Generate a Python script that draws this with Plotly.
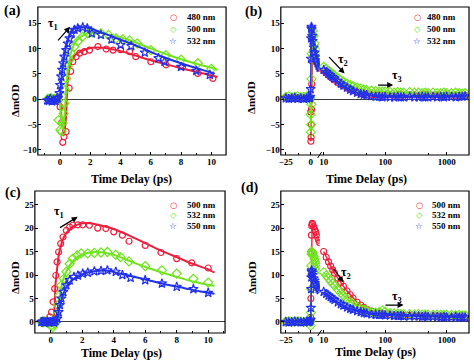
import plotly.graph_objects as go

RED = '#ee1f3c'
GREEN = '#6fe31c'
BLUE = '#2230ea'
FONT = 'Liberation Serif'

# ---------------- panel (a) ----------------
A_T_480 = [-0.8,-0.7,-0.6,-0.5,-0.4,-0.3,-0.2,-0.1,0.0,0.1,0.18,0.26,0.4,0.6,0.7,0.84,1.06,1.3,1.6,1.94,2.5,3.05,3.5,4.0,4.6,5.0,6.0,7.0,8.1,9.1,10.1]
A_V_480 = [0.0,0.1,-0.1,0.0,0.2,0.0,-0.1,0.2,-1.5,-4.6,-8.5,-7.4,-6.4,2.2,5.5,7.4,8.4,9.1,9.4,9.7,10.4,9.9,9.7,9.8,9.4,8.4,7.4,6.8,6.4,5.1,4.1]
A_T_500 = [-0.8,-0.7,-0.6,-0.5,-0.4,-0.3,-0.2,-0.1,0.02,0.1,0.16,0.24,0.28,0.33,0.4,0.5,0.6,0.7,0.95,1.17,1.5,1.83,2.16,2.7,3.2,3.7,4.15,4.6,5.1,6.0,7.0,8.0,9.1,10.0]
A_V_500 = [0.1,0.0,0.2,0.0,0.1,-0.2,0.0,-4.1,-6.0,-6.4,-4.7,-2.8,-0.8,1.8,4.1,6.4,7.8,9.1,10.4,11.4,12.4,13.0,13.2,13.0,12.7,12.0,11.8,11.6,11.0,9.7,8.7,7.8,7.1,6.0]
A_T_532 = [-0.85,-0.75,-0.65,-0.55,-0.45,-0.35,-0.25,-0.15,-0.04,0.0,0.07,0.13,0.2,0.28,0.4,0.5,0.62,0.77,0.95,1.17,1.5,1.8,2.1,2.7,3.4,4.0,4.7,5.6,6.5,6.9,8.0,9.0,9.9]
A_V_532 = [-0.2,-0.3,0.1,-0.4,-0.2,-0.3,0.0,0.2,1.2,2.8,4.5,5.8,7.1,8.4,9.7,11.0,12.0,13.0,13.7,14.0,14.2,14.0,13.0,12.7,11.8,10.7,10.5,9.2,8.1,7.4,6.4,5.6,4.8]

A_FT_480 = [-0.85,-0.05,0.1,0.25,0.38,0.5,0.65,0.85,1.1,1.5,1.9,2.4,3.0,4.0,5.0,6.0,7.0,8.0,9.0,10.0,10.4]
A_FV_480 = [0.0,0.0,-4.0,-7.2,-4.0,3.5,6.5,8.0,9.0,9.6,10.0,10.2,10.1,9.5,8.6,7.7,6.9,6.1,5.4,4.7,4.4]
A_FT_500 = [-0.85,-0.1,0.05,0.2,0.32,0.45,0.6,0.8,1.1,1.5,2.0,2.5,3.0,4.0,5.0,6.0,7.0,8.0,9.0,10.0,10.4]
A_FV_500 = [0.0,0.0,-3.0,-6.0,-2.0,4.0,7.5,10.0,11.6,12.6,13.1,13.1,12.9,12.2,11.2,10.0,8.9,7.9,7.0,6.2,5.8]
A_FT_532 = [-0.85,-0.1,0.0,0.15,0.3,0.45,0.6,0.8,1.0,1.4,2.0,2.6,3.5,4.5,5.5,6.5,7.5,8.5,9.5,10.2]
A_FV_532 = [-0.2,-0.2,1.0,6.0,9.0,11.0,12.4,13.5,14.0,14.2,14.0,13.3,12.3,11.2,10.0,8.7,7.6,6.6,5.7,5.1]

# ---------------- panel (c) ----------------
C_T_500 = [-0.6,-0.5,-0.4,-0.3,-0.2,-0.1,-0.06,0.05,0.15,0.25,0.32,0.4,0.5,0.63,0.78,0.99,1.2,1.4,1.72,2.03,2.45,2.98,3.5,4.0,4.55,4.97,6.0,7.0,8.0,8.95,10.0]
C_V_500 = [0.0,0.1,0.0,-0.1,0.1,0.2,1.1,2.1,4.3,7.1,9.9,12.8,14.9,16.7,18.1,19.5,20.2,20.6,20.7,20.7,20.6,20.0,19.9,19.2,18.5,17.2,16.3,14.8,13.5,12.6,11.5]
C_T_532 = [-0.6,-0.5,-0.4,-0.3,-0.2,-0.1,0.04,0.12,0.25,0.35,0.46,0.56,0.67,0.83,0.99,1.2,1.4,1.68,1.93,2.35,2.77,3.19,3.6,4.13,4.44,4.97,6.0,7.06,8.0,9.06,10.0]
C_V_532 = [0.0,-0.1,0.1,0.0,-0.2,-0.3,-0.7,-1.1,-0.4,1.4,3.6,5.7,7.8,9.2,10.7,12.4,13.5,14.2,14.6,14.6,14.7,14.8,14.9,14.3,13.8,12.9,11.9,11.0,10.3,9.2,8.4]
C_T_550 = [-0.6,-0.5,-0.4,-0.3,-0.2,-0.1,0.0,0.1,0.2,0.3,0.42,0.5,0.58,0.67,0.8,0.99,1.2,1.47,1.72,2.03,2.35,2.77,3.19,3.6,4.13,4.55,5.07,6.0,7.06,8.0,9.06,10.0]
C_V_550 = [0.0,0.1,-0.1,0.0,0.1,-0.1,0.0,0.1,-0.1,0.2,0.7,2.1,3.6,5.0,6.4,7.8,8.9,9.6,9.9,10.3,10.5,10.8,10.9,11.0,10.7,10.0,9.4,8.9,8.2,7.5,7.0,6.2]

C_FT_500 = [-0.6,0.1,0.3,0.55,0.9,1.4,2.0,2.4,3.0,4.0,5.0,6.0,7.0,8.0,9.0,10.0,10.4]
C_FV_500 = [0.0,0.0,8.0,15.0,18.5,20.3,21.0,21.1,20.7,19.8,18.4,16.8,15.2,13.8,12.4,11.2,10.5]
C_FT_532 = [-0.6,0.1,0.2,0.45,0.7,1.1,1.6,2.2,3.0,3.8,4.5,5.3,6.2,7.2,8.2,9.2,10.0,10.4]
C_FV_532 = [0.0,0.0,-0.5,3.0,8.0,11.5,13.6,14.6,14.9,14.5,13.7,12.6,11.5,10.4,9.4,8.5,7.9,7.7]
C_FT_550 = [-0.6,0.35,0.55,0.8,1.1,1.6,2.2,3.0,3.6,4.3,5.2,6.2,7.3,8.5,9.5,10.4]
C_FV_550 = [0.0,0.0,3.0,6.0,8.0,9.5,10.4,10.9,10.9,10.4,9.7,8.9,8.0,7.2,6.5,6.0]

# ---------------- panels (b) and (d): broken axis (linear | log) ----------------
T_SHORT = [-25,-22,-19,-16,-13,-10,-7,-4,-2,-1,-0.5,0,0.2,0.4,0.6,0.8,1,1.5,2,3,4,5,6,7,8,9]
T_LONG = [10,11,12,13,14,15,17,19,21,24,27,30,35,40,45,50,60,70,80,90,100,120,140,160,180,200,250,300,350,400,450,500,600,700,800,900,1000,1200,1400,1600,1800,2000]

B_S_480 = [0.3,0.2,0.3,0.2,0.3,0.2,0.3,0.2,0.3,0.2,0.0,-2.5,-8.3,-7.5,-5.0,-2.0,3.0,7.5,9.5,10.0,9.2,8.4,7.7,7.0,6.5,6.1]
B_L_480 = [5.6,5.2,4.8,4.4,4.1,3.8,3.3,2.9,2.6,2.2,1.9,1.7,1.4,1.2,1.1,1.0,0.9,0.9,0.9,0.8,0.9,0.9,0.8,0.9,0.9,0.8,0.9,0.9,0.8,0.9,0.9,0.9,0.8,0.9,0.8,0.8,0.9,0.8,0.8,0.8,0.7,0.8]
B_S_500 = [0.5,0.6,0.4,0.5,0.6,0.4,0.5,0.6,0.5,0.4,0.2,-3.0,-6.5,-5.0,-1.0,4.0,9.0,12.5,13.5,12.5,11.0,9.8,8.8,8.0,7.3,6.8]
B_L_500 = [6.4,6.0,5.6,5.3,5.0,4.7,4.2,3.8,3.5,3.1,2.8,2.6,2.3,2.1,1.9,1.8,1.7,1.6,1.5,1.5,1.5,1.4,1.3,1.4,1.3,1.3,1.4,1.3,1.3,1.2,1.3,1.2,1.3,1.2,1.2,1.3,1.2,1.2,1.3,1.2,1.1,1.2]
B_S_532 = [0.2,0.1,0.2,0.3,0.1,0.2,0.1,0.2,0.3,0.2,0.5,2.0,8.0,12.0,14.0,14.3,13.8,12.5,11.5,10.2,9.2,8.4,7.7,7.1,6.6,6.2]
B_L_532 = [5.8,5.4,5.0,4.7,4.4,4.1,3.6,3.1,2.7,2.3,1.9,1.6,1.3,1.0,0.9,0.8,0.6,0.5,0.5,0.4,0.5,0.4,0.4,0.5,0.4,0.4,0.5,0.4,0.4,0.5,0.4,0.4,0.5,0.4,0.5,0.4,0.5,0.5,0.4,0.5,0.5,0.6]

D_S_500 = [0.1,0.0,0.1,0.2,0.0,0.1,0.0,0.1,0.2,0.1,0.3,1.0,5.0,10.0,15.0,18.5,20.5,21.0,20.8,20.3,19.7,19.2,18.6,18.0,17.4,16.9]
D_L_500 = [15.0,13.8,12.8,11.9,11.1,10.4,9.3,8.4,7.6,6.6,5.8,5.1,4.2,3.6,3.1,2.7,2.3,2.0,1.9,1.8,1.7,1.6,1.5,1.5,1.4,1.4,1.4,1.3,1.3,1.3,1.3,1.2,1.3,1.2,1.2,1.2,1.2,1.1,1.2,1.1,1.1,1.0]
D_S_532 = [0.1,0.2,0.0,0.1,0.2,0.1,0.0,0.1,0.2,0.1,0.0,-0.8,2.0,7.0,12.0,14.5,15.0,14.8,14.5,14.0,13.4,12.9,12.4,11.9,11.5,11.1]
D_L_532 = [10.6,9.9,9.3,8.7,8.2,7.7,6.9,6.2,5.6,4.9,4.3,3.9,3.3,2.9,2.6,2.4,2.1,2.0,2.1,2.5,2.2,1.9,1.8,1.8,1.7,1.7,1.7,1.6,1.7,1.6,1.6,1.6,1.5,1.6,1.5,1.5,1.5,1.5,1.4,1.5,1.4,1.4]
D_S_550 = [0.0,-0.1,0.0,0.1,0.0,-0.1,0.0,0.1,0.0,0.1,0.2,0.5,3.0,7.0,9.5,10.8,11.0,10.5,10.0,9.3,8.8,8.3,7.9,7.5,7.1,6.8]
D_L_550 = [6.4,6.0,5.6,5.3,5.0,4.7,4.2,3.8,3.5,3.1,2.8,2.6,2.3,2.1,1.9,1.8,1.6,1.5,1.5,1.5,1.4,1.4,1.3,1.3,1.3,1.2,1.2,1.2,1.2,1.1,1.2,1.1,1.1,1.1,1.0,1.1,1.0,1.0,1.1,1.0,1.0,1.0]

LEG_A = ['480 nm', '500 nm', '532 nm']
LEG_C = ['500 nm', '532 nm', '550 nm']
SYMBOLS = ['circle-open', 'diamond-open', 'star-open']
SIZES = [6, 7, 7]
GLYPHS = ['○', '◇', '☆']
COLORS = [RED, GREEN, BLUE]

W, H = 474, 364
def px(x): return x / W
def py(y): return 1 - y / H

fig = go.Figure()

def add_markers(t, v, i, xa, ya, name):
    fig.add_trace(go.Scatter(x=t, y=v, mode='markers', name=name, showlegend=False,
                             xaxis=xa, yaxis=ya,
                             marker=dict(symbol=SYMBOLS[i], size=SIZES[i], color=COLORS[i],
                                         line=dict(width=1.2, color=COLORS[i]))))

def add_fit(t, v, i, xa, ya):
    fig.add_trace(go.Scatter(x=t, y=v, mode='lines', showlegend=False, hoverinfo='skip',
                             xaxis=xa, yaxis=ya, line=dict(color=COLORS[i], width=2, shape='spline', smoothing=0.6)))

def add_both(t, v, i, xa, ya, name):
    fig.add_trace(go.Scatter(x=t, y=v, mode='lines+markers', name=name, showlegend=False,
                             xaxis=xa, yaxis=ya, line=dict(color=COLORS[i], width=1.4),
                             marker=dict(symbol=SYMBOLS[i], size=SIZES[i], color=COLORS[i],
                                         line=dict(width=1.1, color=COLORS[i]))))

# (a)
for i, (t, v, ft, fv) in enumerate([(A_T_480, A_V_480, A_FT_480, A_FV_480),
                                    (A_T_500, A_V_500, A_FT_500, A_FV_500),
                                    (A_T_532, A_V_532, A_FT_532, A_FV_532)]):
    add_markers(t, v, i, 'x', 'y', LEG_A[i])
    add_fit(ft, fv, i, 'x', 'y')
# (b)
for i, (s, l) in enumerate([(B_S_480, B_L_480), (B_S_500, B_L_500), (B_S_532, B_L_532)]):
    add_both(T_SHORT, s, i, 'x2', 'y2', LEG_A[i])
    add_both(T_LONG, l, i, 'x3', 'y2', LEG_A[i])
# (c)
for i, (t, v, ft, fv) in enumerate([(C_T_500, C_V_500, C_FT_500, C_FV_500),
                                    (C_T_532, C_V_532, C_FT_532, C_FV_532),
                                    (C_T_550, C_V_550, C_FT_550, C_FV_550)]):
    add_markers(t, v, i, 'x4', 'y3', LEG_C[i])
    add_fit(ft, fv, i, 'x4', 'y3')
# (d)
for i, (s, l) in enumerate([(D_S_500, D_L_500), (D_S_532, D_L_532), (D_S_550, D_L_550)]):
    add_both(T_SHORT, s, i, 'x5', 'y4', LEG_C[i])
    add_both(T_LONG, l, i, 'x6', 'y4', LEG_C[i])

tickfont = dict(family=FONT, size=9, color='black', weight='bold')
base = dict(showgrid=False, showline=False, ticks='inside', ticklen=3, tickwidth=1,
            tickcolor='black', tickfont=tickfont, zeroline=False)

TOP = [py(155), py(7)]
BOT = [py(333), py(191)]
LIN_D = [px(280), px(319)]
LOG_D = [px(319), px(469)]
ZL = dict(zeroline=True, zerolinecolor='#3a3a3a', zerolinewidth=1.4)

lay = dict(
    xaxis=dict(base, domain=[px(36), px(225)], anchor='y', range=[-1.47, 10.97],
               tickvals=[0, 2, 4, 6, 8, 10], minor=dict(ticks='inside', ticklen=2, dtick=1, tick0=0)),
    yaxis=dict(base, domain=TOP, anchor='x', range=[-11.0, 18.2], tickvals=[-10, -5, 0, 5, 10, 15], **ZL),
    xaxis2=dict(base, domain=LIN_D, anchor='y2', range=[-30, 9], tickvals=[-25, 0],
                minor=dict(ticks='inside', ticklen=2, tickvals=[-12.5])),
    xaxis3=dict(base, domain=LOG_D, anchor='y2', type='log', range=[0.935, 3.363],
                tickvals=[10, 100, 1000], ticktext=['10', '100', '1000'],
                minor=dict(ticks='inside', ticklen=2, tickvals=[50, 500])),
    yaxis2=dict(base, domain=TOP, anchor='x2', range=[-11.0, 18.2], tickvals=[-10, -5, 0, 5, 10, 15], **ZL),
    xaxis4=dict(base, domain=[px(33), px(224)], anchor='y3', range=[-1.01, 11.07],
                tickvals=[0, 2, 4, 6, 8, 10], minor=dict(ticks='inside', ticklen=2, dtick=1, tick0=0)),
    yaxis3=dict(base, domain=BOT, anchor='x4', range=[-2.35, 27.9], tickvals=[0, 5, 10, 15, 20, 25], **ZL),
    xaxis5=dict(base, domain=LIN_D, anchor='y4', range=[-30, 9], tickvals=[-25, 0],
                minor=dict(ticks='inside', ticklen=2, tickvals=[-12.5])),
    xaxis6=dict(base, domain=LOG_D, anchor='y4', type='log', range=[0.935, 3.363],
                tickvals=[10, 100, 1000], ticktext=['10', '100', '1000'],
                minor=dict(ticks='inside', ticklen=2, tickvals=[50, 500])),
    yaxis4=dict(base, domain=BOT, anchor='x5', range=[-2.35, 27.9], tickvals=[0, 5, 10, 15, 20, 25], **ZL),
)

shapes = []
for (x0, x1, y0, y1) in [(36, 225, 7, 155), (280, 469, 7, 155), (33, 224, 191, 333), (280, 469, 191, 333)]:
    shapes.append(dict(type='rect', xref='paper', yref='paper', x0=px(x0), x1=px(x1),
                       y0=py(y1), y1=py(y0), line=dict(color='black', width=1.2)))
# axis-break slashes on the bottom axes of (b) and (d)
for yb in (155, 333):
    shapes.append(dict(type='line', xref='paper', yref='paper', x0=px(317), x1=px(321),
                       y0=py(yb + 3), y1=py(yb - 3), line=dict(color='black', width=1)))

ann = []
def txt(x, y, s, size, xanchor='center', color='black', family=FONT, angle=0):
    ann.append(dict(x=px(x), y=py(y), xref='paper', yref='paper', text=s, showarrow=False,
                    xanchor=xanchor, yanchor='middle', textangle=angle,
                    font=dict(family=family, size=size, color=color, weight='bold')))

# panel labels
txt(11, 11, '(a)', 14); txt(253, 12, '(b)', 14); txt(11, 193, '(c)', 14); txt(249, 188, '(d)', 14)
# axis titles
txt(130, 179, 'Time Delay (ps)', 12); txt(366, 179, 'Time Delay (ps)', 12)
txt(120, 353, 'Time Delay (ps)', 12); txt(375, 352, 'Time Delay (ps)', 12)
txt(13, 100, 'ΔmOD', 11, angle=-90); txt(250, 97, 'ΔmOD', 11, angle=-90)
txt(13, 277, 'ΔmOD', 11, angle=-90); txt(251, 277, 'ΔmOD', 11, angle=-90)
# legends
for (sx, tx, rows, names) in [(172, 184, [17, 29, 41], LEG_A), (417, 425, [17, 29, 41], LEG_A),
                              (172, 184, [205, 215, 226], LEG_C), (419, 430, [205, 215, 226], LEG_C)]:
    for i in range(3):
        txt(sx, rows[i], GLYPHS[i], 8.5, color=COLORS[i], family='DejaVu Sans')
        txt(tx, rows[i], names[i], 9, xanchor='left')

# tau labels and arrows (data coordinates)
def tau(xr, yr, x, y, s):
    ann.append(dict(x=x, y=y, xref=xr, yref=yr, text=s, showarrow=False,
                    font=dict(family=FONT, size=12, color='black', weight='bold')))
def arrow(xr, yr, x0, y0, x1, y1):
    ann.append(dict(x=x1, y=y1, ax=x0, ay=y0, xref=xr, yref=yr, axref=xr, ayref=yr, text='',
                    showarrow=True, arrowhead=2, arrowsize=1, arrowwidth=1.2, arrowcolor='black'))

tau('x', 'y', -0.45, 14.8, 'τ<sub>1</sub>'); arrow('x', 'y', -0.22, 11.3, 0.66, 14.3)
tau('x3', 'y2', 1.32, 7.7, 'τ<sub>2</sub>'); arrow('x3', 'y2', 1.065, 8.6, 1.34, 5.1)
tau('x3', 'y2', 2.19, 4.6, 'τ<sub>3</sub>'); arrow('x3', 'y2', 1.86, 2.8, 2.13, 2.8)
tau('x4', 'y3', 0.53, 23.5, 'τ<sub>1</sub>'); arrow('x4', 'y3', 0.49, 19.9, 1.71, 22.4)
tau('x6', 'y4', 1.36, 10.5, 'τ<sub>2</sub>'); arrow('x6', 'y4', 1.145, 11.7, 1.32, 8.4)
tau('x6', 'y4', 2.19, 5.3, 'τ<sub>3</sub>'); arrow('x6', 'y4', 1.98, 3.6, 2.30, 3.6)

fig.update_layout(width=W, height=H, margin=dict(l=0, r=0, t=0, b=0),
                  paper_bgcolor='white', plot_bgcolor='white', showlegend=False,
                  shapes=shapes, annotations=ann, **lay)

fig.write_html("out.html", config={'displayModeBar': False},
               post_script="document.body.style.margin='0px';")
